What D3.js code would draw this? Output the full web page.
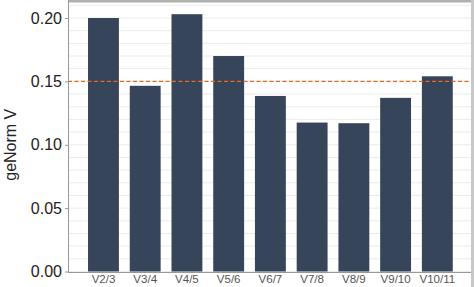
<!DOCTYPE html>
<html>
<head>
<meta charset="utf-8">
<script src="https://cdn.jsdelivr.net/npm/d3@7"></script>
<style>
body { margin: 0; background: #fff; }
svg { display: block; font-family: "Liberation Sans", Arial, sans-serif; }
</style>
</head>
<body>
<svg></svg>
<script>
// data
var pairs = ['V2/3', 'V3/4', 'V4/5', 'V5/6', 'V6/7', 'V7/8', 'V8/9', 'V9/10', 'V10/11'];
var genormV = [0.200, 0.1465, 0.203, 0.170, 0.1385, 0.1175, 0.117, 0.137, 0.154];
var yTicks = [0, 0.05, 0.10, 0.15, 0.20];
var cutoff = 0.15;

var width = 474, height = 287;
var svg = d3.select('svg').attr('width', width).attr('height', height);

var x = d3.scaleBand().domain(pairs).range([82.6, 458.2])
          .paddingInner(0.26).paddingOuter(0.13);
var y = d3.scaleLinear().domain([0, 0.2]).range([271.5, 18]);

// minor grid every 0.01
var grid = d3.range(0, 0.211, 0.01);
svg.append('g').selectAll('line').data(grid).enter().append('line')
    .attr('x1', 68).attr('x2', 471)
    .attr('y1', d => y(d)).attr('y2', d => y(d))
    .attr('stroke', '#ececec').attr('stroke-width', 1);

// top and right frame
svg.append('line').attr('x1', 68).attr('x2', 474).attr('y1', 1).attr('y2', 1)
    .attr('stroke', '#b0b0b0').attr('stroke-width', 3);
svg.append('line').attr('x1', 472.5).attr('x2', 472.5).attr('y1', 0).attr('y2', height)
    .attr('stroke', '#c8c8c8').attr('stroke-width', 3);

// bars
svg.append('g').selectAll('rect').data(pairs).enter().append('rect')
    .attr('x', d => x(d))
    .attr('width', x.bandwidth())
    .attr('y', (d, i) => y(genormV[i]))
    .attr('height', (d, i) => y(0) - y(genormV[i]))
    .attr('fill', '#364559');

// cutoff line
svg.append('line')
    .attr('x1', 68).attr('x2', 471)
    .attr('y1', y(cutoff)).attr('y2', y(cutoff))
    .attr('stroke', '#e8691c').attr('stroke-width', 1.2)
    .attr('stroke-dasharray', '4,2.5');

// axes
var yAxis = svg.append('g').attr('transform', 'translate(68,0)')
    .call(d3.axisLeft(y).tickValues(yTicks).tickFormat(d3.format('.2f')).tickSize(3).tickPadding(3));
yAxis.select('.domain').attr('stroke', '#999').attr('d', 'M0.5,0V272');
yAxis.selectAll('.tick line').attr('stroke', '#999');
yAxis.selectAll('.tick text').attr('font-size', 16).attr('fill', '#222');

var xAxis = svg.append('g').attr('transform', 'translate(0,272)')
    .call(d3.axisBottom(x).tickSize(0).tickPadding(3));
xAxis.select('.domain').attr('stroke', '#999').attr('d', 'M68,0.5H471');
xAxis.selectAll('.tick text').attr('font-size', 11.5).attr('fill', '#555');

svg.append('text')
    .attr('transform', 'translate(16,' + y(0.1) + ') rotate(-90)')
    .attr('text-anchor', 'middle')
    .attr('font-size', 16).attr('fill', '#222')
    .text('geNorm V');
</script>
</body>
</html>
